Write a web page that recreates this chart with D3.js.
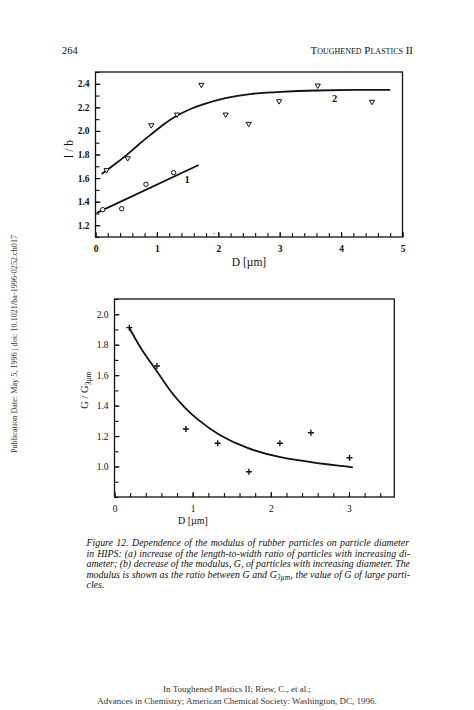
<!DOCTYPE html>
<html>
<head>
<meta charset="utf-8">
<script src="https://cdn.jsdelivr.net/npm/d3@7"></script>
<style>
  body { margin: 0; background: #fff; }
  svg { display: block; }
  text { font-family: "Liberation Serif", "Times New Roman", serif; fill: #111; }
</style>
</head>
<body>
<div class="page"></div>
<script>
// ---- panel (a): l/b vs D ----
const triD = [0.18, 0.524, 0.909, 1.327, 1.724, 2.12, 2.495, 2.99, 3.62, 4.503];
const triLB = [1.663, 1.764, 2.044, 2.135, 2.387, 2.135, 2.056, 2.248, 2.381, 2.243];
const circD = [0.117, 0.426, 0.822, 1.273];
const circLB = [1.332, 1.34, 1.547, 1.646];
// fitted curves
const fit1D = [0.02, 1.68];
const fit1LB = [1.305, 1.711];
const fit2D = [0.1, 0.3, 0.52, 0.7, 0.9, 1.1, 1.32, 1.52, 1.72, 2.12, 2.5, 3.0, 3.6, 4.2, 4.8];
const fit2LB = [1.635, 1.71, 1.8, 1.885, 1.968, 2.055, 2.13, 2.182, 2.222, 2.282, 2.315, 2.333, 2.344, 2.348, 2.349];
const topXTicks = [0, 1, 2, 3, 4, 5];
const topYTicks = [1.2, 1.4, 1.6, 1.8, 2.0, 2.2, 2.4];

// ---- panel (b): G/G3um vs D ----
const plusD = [0.19, 0.543, 0.914, 1.32, 1.72, 2.116, 2.513, 3.007];
const plusG = [1.912, 1.66, 1.246, 1.153, 0.966, 1.153, 1.222, 1.058];
const fit3D = [0.19, 0.35, 0.54, 0.73, 0.9, 1.07, 1.31, 1.71, 2.11, 2.51, 3.05];
const fit3G = [1.91, 1.76, 1.63, 1.48, 1.385, 1.305, 1.212, 1.113, 1.06, 1.028, 0.995];
const botXTicks = [0, 1, 2, 3];
const botYTicks = [1.0, 1.2, 1.4, 1.6, 1.8, 2.0];

const captionLines = [
  ["Figure 12.  Dependence of the modulus of rubber particles on particle diameter"],
  ["in HIPS: (a) increase of the length-to-width ratio of particles with increasing di-"],
  ["ameter; (b) decrease of the modulus, G, of particles with increasing diameter. The"],
  ["modulus is shown as the ratio between G and G", "3\u00b5m", ", the value of G of large parti-"],
  ["cles."]
];

const W = 474, H = 710;
const svg = d3.select(".page").append("svg").attr("width", W).attr("height", H);

// page furniture
svg.append("text").attr("x", 62).attr("y", 54).attr("font-size", 10.5).text("264");
svg.append("text").attr("x", 413).attr("y", 54).attr("text-anchor", "end")
  .attr("font-size", 11).style("font-variant", "small-caps").text("Toughened Plastics II");
svg.append("text").attr("transform", "translate(17,344) rotate(-90)")
  .attr("text-anchor", "middle").attr("font-size", 8).attr("textLength", 218)
  .style("fill", "#333")
  .text("Publication Date: May 5, 1996 | doi: 10.1021/ba-1996-0252.ch017");
svg.append("text").attr("x", 237).attr("y", 692).attr("text-anchor", "middle")
  .attr("font-size", 9).style("fill", "#333").text("In Toughened Plastics II; Riew, C., et al.;");
svg.append("text").attr("x", 237).attr("y", 704).attr("text-anchor", "middle")
  .attr("font-size", 9).style("fill", "#333")
  .text("Advances in Chemistry; American Chemical Society: Washington, DC, 1996.");

function drawAxes(g, x, y, opt) {
  const [x0, x1] = x.range(), [y0, y1] = y.range();
  g.append("rect").attr("x", x0).attr("y", y1).attr("width", x1 - x0).attr("height", y0 - y1)
    .attr("fill", "none").attr("stroke", "#111").attr("stroke-width", 1.3);
  // minor ticks
  const xMinor = d3.range(x.domain()[0], x.domain()[1] + 1e-9, 0.2);
  const yMinor = d3.range(Math.ceil(y.domain()[0] * 10) / 10, y.domain()[1] + 1e-9, 0.1);
  g.append("g").attr("transform", `translate(0,${y0})`)
    .call(d3.axisBottom(x).tickValues(xMinor).tickSize(-4).tickFormat(""))
    .call(a => a.select(".domain").remove());
  g.append("g").attr("transform", `translate(${x0},0)`)
    .call(d3.axisLeft(y).tickValues(yMinor).tickSize(-4).tickFormat(""))
    .call(a => a.select(".domain").remove());
  // labelled ticks
  g.append("g").attr("transform", `translate(0,${y0})`)
    .call(d3.axisBottom(x).tickValues(opt.xTicks).tickSize(-5).tickPadding(opt.xPad).tickFormat(d3.format("d")))
    .call(a => a.select(".domain").remove())
    .call(a => a.selectAll("text").attr("font-size", opt.fs).attr("font-weight", opt.fw)
      .attr("font-family", "Liberation Serif").attr("fill", "#111"));
  g.append("g").attr("transform", `translate(${x0},0)`)
    .call(d3.axisLeft(y).tickValues(opt.yTicks).tickSize(-5).tickPadding(opt.yPad).tickFormat(d3.format(".1f")))
    .call(a => a.select(".domain").remove())
    .call(a => a.selectAll("text").attr("font-size", opt.fs).attr("font-weight", opt.fw)
      .attr("font-family", "Liberation Serif").attr("fill", "#111"));
  g.selectAll(".tick line").attr("stroke", "#111").attr("stroke-width", 1.1);
}

// ---------- panel (a) ----------
const xa = d3.scaleLinear().domain([0, 5]).range([95.5, 402.5]);
const ya = d3.scaleLinear().domain([1.1, 2.5]).range([237, 72]);
const ga = svg.append("g");
drawAxes(ga, xa, ya, { xTicks: topXTicks, yTicks: topYTicks, fs: 9.5, fw: "bold", xPad: 8, yPad: 6 });

const lineA = d3.line().x(d => xa(d[0])).y(d => ya(d[1])).curve(d3.curveBasis);
ga.append("path").datum(d3.zip(fit1D, fit1LB)).attr("d", lineA)
  .attr("fill", "none").attr("stroke", "#111").attr("stroke-width", 1.8);
ga.append("path").datum(d3.zip(fit2D, fit2LB)).attr("d", lineA)
  .attr("fill", "none").attr("stroke", "#111").attr("stroke-width", 1.8);

ga.selectAll("circle.pt").data(d3.zip(circD, circLB)).join("circle")
  .attr("cx", d => xa(d[0])).attr("cy", d => ya(d[1])).attr("r", 2.2)
  .attr("fill", "#fff").attr("stroke", "#111").attr("stroke-width", 1);
ga.selectAll("path.tri").data(d3.zip(triD, triLB)).join("path").attr("class", "tri")
  .attr("transform", d => `translate(${xa(d[0])},${ya(d[1])})`)
  .attr("d", "M-2.6,-2 L2.6,-2 L0,2.4 Z")
  .attr("fill", "#fff").attr("stroke", "#111").attr("stroke-width", 1);

ga.append("text").attr("x", xa(1.45)).attr("y", ya(1.558)).attr("font-size", 10.5)
  .attr("font-weight", "bold").text("1");
ga.append("text").attr("x", xa(3.85)).attr("y", ya(2.245)).attr("font-size", 10.5)
  .attr("font-weight", "bold").text("2");
ga.append("circle").attr("cx", xa(1.93)).attr("cy", ya(1.13)).attr("r", 0.6).attr("fill", "#555");

ga.append("text").attr("x", 249).attr("y", 266).attr("text-anchor", "middle")
  .attr("font-size", 11.5).text("D [\u00b5m]");
ga.append("text").attr("transform", "translate(73,149) rotate(-90)").attr("text-anchor", "middle")
  .attr("font-size", 11.5).text("l / b");

// ---------- panel (b) ----------
const xb = d3.scaleLinear().domain([0, 3.58]).range([114.5, 394.3]);
const yb = d3.scaleLinear().domain([0.8, 2.1]).range([497, 299]);
const gb = svg.append("g");
drawAxes(gb, xb, yb, { xTicks: botXTicks, yTicks: botYTicks, fs: 9.5, fw: "normal", xPad: 8, yPad: 6 });

const lineB = d3.line().x(d => xb(d[0])).y(d => yb(d[1])).curve(d3.curveBasis);
gb.append("path").datum(d3.zip(fit3D, fit3G)).attr("d", lineB)
  .attr("fill", "none").attr("stroke", "#111").attr("stroke-width", 1.8);
gb.selectAll("path.plus").data(d3.zip(plusD, plusG)).join("path").attr("class", "plus")
  .attr("transform", d => `translate(${xb(d[0])},${yb(d[1])})`)
  .attr("d", "M-3,0 H3 M0,-3 V3")
  .attr("stroke", "#111").attr("stroke-width", 1.4);

gb.append("text").attr("x", 193).attr("y", 524).attr("text-anchor", "middle")
  .attr("font-size", 10).text("D [\u00b5m]");
const yl = gb.append("text").attr("transform", "translate(88,390) rotate(-90)")
  .attr("text-anchor", "middle").attr("font-size", 10.5);
yl.append("tspan").text("G / G");
yl.append("tspan").attr("font-size", 7.5).attr("dy", 3).text("3\u00b5m");

// ---------- caption (justified) ----------
const cap = svg.append("g");
const capLeft = 86.5, capWidth = 323.5;
const capText = captionLines.map((parts, i) => {
  const t = cap.append("text").attr("x", capLeft).attr("y", 546 + i * 10.6)
    .attr("font-size", 11).style("font-style", "italic");
  parts.forEach((p, j) => {
    const s = t.append("tspan").text(p);
    if (j === 1) s.attr("font-size", 7.5).attr("dy", 2.5);
    if (j === 2) s.attr("dy", -2.5);
  });
  return t;
});
// pick the size so the widest line just fills the column, then spread the rest
const widest = d3.max(capText, t => t.node().getComputedTextLength());
const fsCap = 11 * capWidth / widest;
capText.forEach((t, i) => {
  t.attr("font-size", fsCap);
  if (i < capText.length - 1) {
    const w = t.node().getComputedTextLength();
    const gaps = captionLines[i].join("").split(" ").length - 1;
    t.attr("word-spacing", Math.max(0, (capWidth - w) / gaps));
  }
});
</script>
</body>
</html>
